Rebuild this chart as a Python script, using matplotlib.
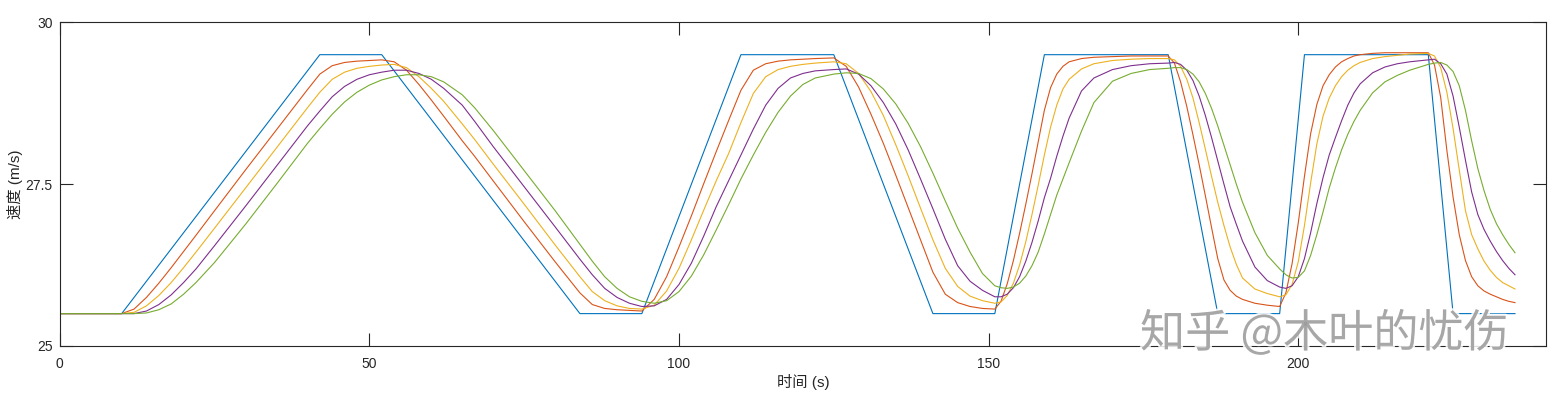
import matplotlib
matplotlib.use("Agg")
import matplotlib.pyplot as plt
import matplotlib.patheffects as pe

plt.rcParams['font.family'] = ['Liberation Sans', 'Noto Sans CJK SC', 'DejaVu Sans']

# leader (vehicle 0) speed profile breakpoints
lead_t = [0, 10, 42, 52, 84, 94, 110, 125, 141, 151, 159, 179, 187, 197, 201, 221, 225, 235]
lead_v = [25.5, 25.5, 29.5, 29.5, 25.5, 25.5, 29.5, 29.5, 25.5, 25.5,
          29.5, 29.5, 25.5, 25.5, 29.5, 29.5, 25.5, 25.5]

# followers on a common time grid
time_s = [0, 10, 12, 14, 16, 18, 20, 22, 25, 30, 35, 40,
          42, 44, 46, 48, 50, 52, 54, 56, 58, 60, 62, 65, 67,
          70, 75, 80, 84, 86, 88, 90, 92, 94,
          96, 98, 100, 102, 104, 106, 108, 110, 112, 114, 116, 118, 120, 122,
          125, 127, 129, 131, 133, 135, 137, 139, 141, 143, 145, 147, 149, 151,
          152, 153, 154, 155, 156, 157, 158, 159, 160, 161, 162, 163, 165, 167, 170, 173, 176,
          179, 180, 181, 182, 183, 184, 185, 186, 187, 188, 189, 190, 191, 193, 195, 197,
          198, 199, 200, 201, 202, 203, 204, 205, 206, 207, 208, 209, 210, 212, 214, 216, 218,
          221, 222, 223, 224, 225, 226, 227, 228, 229, 230, 231, 232, 233, 234, 235]

car1 = [25.50, 25.50, 25.57, 25.75, 25.97, 26.21, 26.46, 26.71, 27.09, 27.72, 28.34, 28.96,
        29.20, 29.33, 29.38, 29.40, 29.41, 29.42, 29.39, 29.26, 29.04, 28.80, 28.55, 28.17, 27.93,
        27.55, 26.92, 26.30, 25.82, 25.64, 25.58, 25.56, 25.55, 25.54,
        25.72, 26.07, 26.53, 27.01, 27.51, 28.00, 28.48, 28.95, 29.26, 29.36, 29.40, 29.42, 29.43, 29.44,
        29.45, 29.32, 29.00, 28.58, 28.13, 27.64, 27.14, 26.64, 26.14, 25.80, 25.67, 25.61, 25.58, 25.57,
        25.69, 25.96, 26.32, 26.74, 27.19, 27.66, 28.15, 28.64, 28.99, 29.20, 29.32, 29.39, 29.44, 29.46, 29.47, 29.48, 29.48,
        29.48, 29.37, 29.08, 28.70, 28.26, 27.80, 27.32, 26.83, 26.35, 26.02, 25.86, 25.77, 25.72, 25.66, 25.63, 25.61,
        25.82, 26.27, 26.90, 27.62, 28.28, 28.73, 29.02, 29.19, 29.31, 29.39, 29.44, 29.48, 29.50, 29.52, 29.53, 29.53, 29.53,
        29.53, 29.34, 28.84, 28.02, 27.30, 26.72, 26.32, 26.07, 25.93, 25.85, 25.80, 25.76, 25.72, 25.69, 25.67]

car2 = [25.50, 25.50, 25.52, 25.62, 25.78, 25.98, 26.21, 26.45, 26.82, 27.44, 28.06, 28.68,
        28.92, 29.12, 29.23, 29.29, 29.32, 29.34, 29.35, 29.30, 29.16, 28.98, 28.78, 28.43, 28.19,
        27.81, 27.19, 26.56, 26.07, 25.84, 25.70, 25.62, 25.58, 25.57,
        25.63, 25.85, 26.20, 26.64, 27.10, 27.55, 27.97, 28.45, 28.90, 29.16, 29.27, 29.32, 29.35, 29.37,
        29.39, 29.36, 29.21, 28.93, 28.56, 28.11, 27.63, 27.13, 26.64, 26.20, 25.92, 25.77, 25.70, 25.66,
        25.68, 25.78, 25.97, 26.25, 26.61, 27.03, 27.48, 27.95, 28.38, 28.72, 28.97, 29.12, 29.28, 29.36, 29.41, 29.43, 29.44,
        29.44, 29.42, 29.32, 29.12, 28.83, 28.45, 28.04, 27.62, 27.22, 26.86, 26.53, 26.26, 26.05, 25.88, 25.81, 25.76,
        25.79, 25.95, 26.30, 26.86, 27.52, 28.12, 28.55, 28.83, 29.02, 29.16, 29.26, 29.33, 29.38, 29.44, 29.47, 29.49, 29.51,
        29.52, 29.48, 29.30, 28.92, 28.36, 27.72, 27.09, 26.72, 26.50, 26.31, 26.17, 26.06, 25.98, 25.93, 25.88]

car3 = [25.50, 25.50, 25.50, 25.54, 25.64, 25.79, 25.98, 26.19, 26.55, 27.16, 27.78, 28.40,
        28.63, 28.85, 29.01, 29.12, 29.19, 29.23, 29.26, 29.26, 29.21, 29.12, 28.98, 28.72, 28.47,
        28.08, 27.46, 26.84, 26.34, 26.10, 25.89, 25.75, 25.66, 25.61,
        25.62, 25.72, 25.95, 26.28, 26.70, 27.15, 27.55, 27.95, 28.35, 28.72, 28.98, 29.14, 29.21, 29.25,
        29.27, 29.28, 29.20, 29.02, 28.76, 28.43, 28.03, 27.58, 27.12, 26.65, 26.24, 26.00, 25.86, 25.76,
        25.76, 25.80, 25.90, 26.07, 26.31, 26.60, 26.93, 27.29, 27.59, 27.93, 28.24, 28.52, 28.94, 29.14, 29.27, 29.33, 29.36,
        29.37, 29.38, 29.35, 29.26, 29.10, 28.86, 28.56, 28.22, 27.86, 27.50, 27.15, 26.88, 26.62, 26.22, 26.01, 25.91,
        25.89, 25.93, 26.07, 26.35, 26.75, 27.20, 27.60, 27.95, 28.22, 28.48, 28.72, 28.91, 29.05, 29.22, 29.31, 29.36, 29.39,
        29.42, 29.43, 29.36, 29.20, 28.86, 28.38, 27.87, 27.38, 27.03, 26.80, 26.62, 26.46, 26.32, 26.20, 26.10]

car4 = [25.50, 25.50, 25.50, 25.51, 25.56, 25.65, 25.80, 25.98, 26.29, 26.88, 27.50, 28.13,
        28.36, 28.58, 28.77, 28.92, 29.03, 29.11, 29.16, 29.19, 29.19, 29.16, 29.08, 28.88, 28.68,
        28.33, 27.71, 27.09, 26.57, 26.31, 26.07, 25.89, 25.76, 25.69,
        25.66, 25.70, 25.84, 26.08, 26.41, 26.79, 27.18, 27.58, 27.95, 28.30, 28.61, 28.86, 29.04, 29.14,
        29.20, 29.22, 29.21, 29.13, 28.97, 28.74, 28.44, 28.08, 27.67, 27.24, 26.82, 26.45, 26.12, 25.93,
        25.90, 25.89, 25.91, 25.97, 26.08, 26.24, 26.45, 26.73, 27.03, 27.33, 27.58, 27.83, 28.32, 28.76, 29.09, 29.21, 29.27,
        29.29, 29.30, 29.30, 29.27, 29.20, 29.08, 28.90, 28.67, 28.40, 28.10, 27.80, 27.50, 27.22, 26.75, 26.40, 26.19,
        26.10, 26.05, 26.06, 26.16, 26.40, 26.72, 27.07, 27.44, 27.75, 28.03, 28.27, 28.47, 28.64, 28.91, 29.08, 29.18, 29.26,
        29.35, 29.37, 29.38, 29.34, 29.24, 29.02, 28.64, 28.17, 27.74, 27.40, 27.11, 26.89, 26.72, 26.57, 26.44]

followers = [car1, car2, car3, car4]
colors = ['#0072BD', '#D95319', '#EDB120', '#7E2F8E', '#77AC30']
axis_color = '#262626'

fig = plt.figure(figsize=(15.6, 3.97), dpi=100)
ax = fig.add_axes([0.0383, 0.1285, 0.9527, 0.8153])

ax.plot(lead_t, lead_v, color=colors[0], linewidth=0.8)
for v, c in zip(followers, colors[1:]):
    ax.plot(time_s, v, color=c, linewidth=0.8)

ax.set_xlim(0, 240)
ax.set_ylim(25, 30)
ax.set_xticks([0, 50, 100, 150, 200])
ax.set_yticks([25, 27.5, 30])
ax.set_yticklabels(['25', '27.5', '30'])
ax.tick_params(direction='in', length=9.5, width=0.8, top=True, right=True,
               labelsize=10, colors=axis_color)
ax.tick_params(axis='x', pad=8)
ax.tick_params(axis='y', pad=5)
for s in ax.spines.values():
    s.set_color(axis_color)
    s.set_linewidth(0.8)

ax.set_xlabel('时间 (s)', fontsize=11, color=axis_color, labelpad=2)
ax.set_ylabel('速度 (m/s)', fontsize=11, color=axis_color, labelpad=2)

# watermark
fig.text(1140 / 1560, 1 - 347 / 397, '知乎 @木叶的忧伤', fontsize=32.5,
         color='#9a9a9a', alpha=0.85, family=['Noto Sans CJK SC'],
         ha='left', va='baseline',
         path_effects=[pe.withStroke(linewidth=3, foreground='white')])

fig.savefig('out.png', dpi=100)
